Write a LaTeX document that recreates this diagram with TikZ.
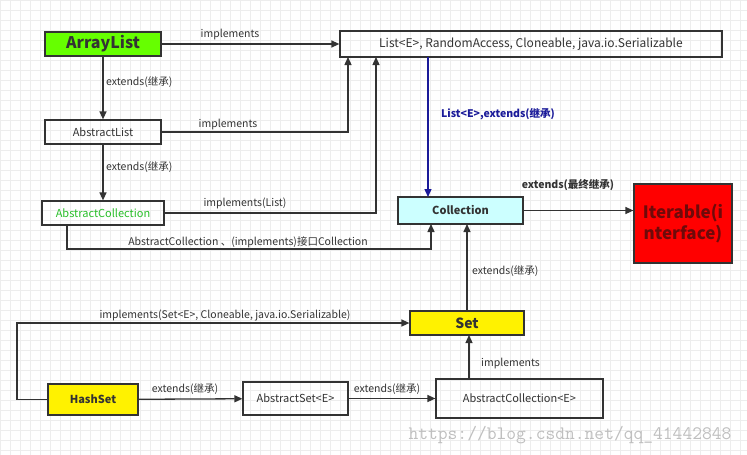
\documentclass[tikz,border=0pt]{standalone}
\usepackage{fontspec}
\setmainfont{Noto Sans CJK SC}
\usetikzlibrary{arrows.meta}
\definecolor{ln}{HTML}{333333}
\definecolor{bl}{HTML}{1A1A99}
\begin{document}
\begin{tikzpicture}[x=1pt,y=-1pt,
 box/.style={draw=ln,line width=1.2pt,minimum height=24pt,inner sep=1pt,font=\fontsize{11}{12}\selectfont,text=ln},
 arr/.style={draw=ln,line width=1.3pt,-{Triangle[length=8pt,width=7pt]}},
 lab/.style={font=\fontsize{10.5}{12}\selectfont,text=ln,inner sep=0pt}]
\useasboundingbox[fill=white] (0,0) rectangle (747,455);
\draw[black!7,line width=0.4pt] (0,0) grid[step=10pt] (747,455);
% nodes (centres)
\node[box,fill={rgb,255:red,102;green,255;blue,0},minimum width=116pt,font=\fontsize{16}{18}\selectfont\bfseries] (al) at (103,44) {ArrayList};
\node[box,minimum width=382pt,minimum height=26pt,font=\fontsize{12}{13}\selectfont] (lst) at (531,44) {List<E>, RandomAccess, Cloneable, java.io.Serializable};
\node[box,minimum width=116pt] (abl) at (103,132) {AbstractList};
\node[box,minimum width=122pt,text={rgb,255:red,40;green,190;blue,40}] (abc) at (103,213) {AbstractCollection};
\node[box,fill={rgb,255:red,204;green,255;blue,255},minimum width=125pt,minimum height=27pt,font=\fontsize{11}{12}\selectfont\bfseries] (col) at (460.5,210.5) {Collection};
\node[box,fill=red,minimum width=98pt,minimum height=79pt,text={rgb,255:red,110;green,10;blue,10},font=\fontsize{17}{21}\selectfont\bfseries,align=center] (it) at (683,223.5) {Iterable(i\\nterface)};
\node[box,fill=yellow,minimum width=114pt,font=\fontsize{14}{16}\selectfont\bfseries] (set) at (467,323) {Set};
\node[box,fill=yellow,minimum width=90pt,minimum height=31pt,font=\fontsize{11}{12}\selectfont\bfseries] (hs) at (93,399.5) {HashSet};
\node[box,minimum width=105pt,minimum height=33pt] (as) at (295.5,398.5) {AbstractSet<E>};
\node[box,minimum width=167pt,minimum height=39pt] (ace) at (519.5,398.5) {AbstractCollection<E>};
\coordinate (itl) at (it.west |- col.east);
% connectors
\draw[arr] (al) -- (lst);
\node[lab] at (230,35) {implements};
\draw[arr] (al) -- (abl);
\node[lab,anchor=west] at (106,82) {extends(继承)};
\draw[arr] (abl.east) -| (348,57);
\node[lab] at (228,125) {implements};
\draw[arr] (abl) -- (abc);
\node[lab,anchor=west] at (106,167) {extends(继承)};
\draw[arr] (abc.east) -| (376,57);
\node[lab] at (245,203) {implements(List)};
\draw[arr] (67,225) |- (431,249) -- (431,224);
\node[lab] at (248,242) {AbstractCollection 、(implements)接口Collection};
\draw[arr,draw=bl] (428,57) -- (428,197);
\node[lab,text=bl,font=\fontsize{10.5}{12}\selectfont\bfseries,anchor=west] at (441,114) {List<E>,extends(继承)};
\draw[arr] (col.east) -- (itl);
\node[lab,font=\fontsize{10.5}{12}\selectfont\bfseries] at (568,185) {extends(最终继承)};
\draw[arr] (set.north) -- (467,224);
\node[lab,anchor=west] at (472,271) {extends(继承)};
\draw[arr] (hs.west) -- (17,399.5) |- (set.west);
\node[lab] at (225,315) {implements(Set<E>, Cloneable, java.io.Serializable)};
\draw[arr] (hs) -- (as);
\node[lab] at (185,389) {extends(继承)};
\draw[arr] (as) -- (ace);
\node[lab] at (387,389) {extends(继承)};
\draw[arr] (469,379) -- (469,335);
\node[lab,anchor=west] at (481,364) {implements};
\node[lab,text=black!25,font=\fontsize{19}{21}\selectfont\ttfamily] at (570,435) {https://blog.csdn.net/qq\_41442848};
\end{tikzpicture}
\end{document}
